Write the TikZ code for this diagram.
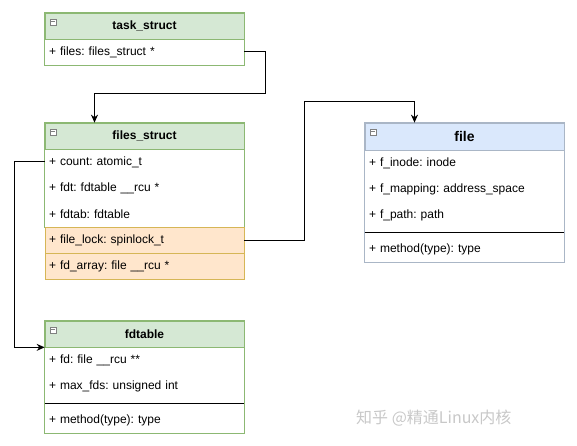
\documentclass[tikz,border=0pt]{standalone}
\usepackage{fontspec}
\setmainfont{Liberation Sans}
\newfontfamily\cjk{Noto Sans CJK SC}
\usepackage{tikz}
\definecolor{hgreen}{RGB}{213, 232, 212}
\definecolor{bgreen}{RGB}{140, 184, 115}
\definecolor{horange}{RGB}{255, 230, 204}
\definecolor{borange}{RGB}{214, 182, 86}
\definecolor{hblue}{RGB}{218, 232, 252}
\definecolor{bblue}{RGB}{170, 182, 198}
\definecolor{wm}{RGB}{200, 200, 200}
\usetikzlibrary{positioning}
\usetikzlibrary{arrows.meta}
\frenchspacing

\begin{document}
\begin{tikzpicture}[x=1pt, y=1pt,
head/.style={rectangle, minimum width=199pt, minimum height=26pt, inner sep=0pt, line width=0.7pt, font=\bfseries\fontsize{12}{14}\selectfont},
row/.style={rectangle, minimum height=26pt, text width=191pt, inner xsep=4pt, inner ysep=0pt, align=left, line width=0.7pt, font=\fontsize{12}{14}\selectfont},
minus/.style={rectangle, minimum size=6pt, inner sep=0pt, draw=gray, fill=white, line width=0.5pt, path picture={\draw[line width=0.9pt] ([xshift=1.2pt]path picture bounding box.west) -- ([xshift=-1.2pt]path picture bounding box.east);}},
link/.style={line width=1pt, color=black, -{Stealth[length=8pt, width=7pt]}},
sep/.style={line width=1pt, color=black}]
\useasboundingbox (0,0) rectangle (577,-446);
% task_struct
\node (tshead) [head, fill=hgreen, draw=bgreen] at (144.5,-26) {task\_struct};
\node (tsfiles) [row] at (144.5,-52) {+ files: files\_struct *};
\draw [line width=0.7pt, color=bgreen] (tshead.north west) rectangle (tsfiles.south east);
\node (tsicon) [minus, below right=6pt and 5pt of tshead.north west] {};
% files_struct
\node (fshead) [head, fill=hgreen, draw=bgreen] at (144.5,-136) {files\_struct};
\node (fscount) [row] at (144.5,-162) {+ count: atomic\_t};
\node (fsfdt) [row] at (144.5,-188) {+ fdt: fdtable \_\_rcu *};
\node (fsfdtab) [row] at (144.5,-214) {+ fdtab: fdtable};
\draw [line width=0.7pt, color=bgreen] (fshead.north west) rectangle (fsfdtab.south east);
\node (fslock) [row, fill=horange, draw=borange] at (144.5,-240) {+ file\_lock: spinlock\_t};
\node (fsarray) [row, fill=horange, draw=borange] at (144.5,-266) {+ fd\_array: file \_\_rcu *};
\node (fsicon) [minus, below right=6pt and 5pt of fshead.north west] {};
% fdtable
\node (fdhead) [head, fill=hgreen, draw=bgreen] at (144.5,-334) {fdtable};
\node (fdfd) [row] at (144.5,-360) {+ fd: file \_\_rcu **};
\node (fdmax) [row] at (144.5,-386) {+ max\_fds: unsigned int};
\node (fdmethod) [row] at (144.5,-420) {+ method(type): type};
\draw [line width=0.7pt, color=bgreen] (fdhead.north west) rectangle (fdmethod.south east);
\draw [sep] ([yshift=-4pt]fdmax.south west) -- ([yshift=-4pt]fdmax.south east);
\node (fdicon) [minus, below right=6pt and 5pt of fdhead.north west] {};
% file
\node (fihead) [head, fill=hblue, draw=bblue, font=\bfseries\fontsize{14}{16}\selectfont, minimum height=27pt] at (464.5,-136.5) {file};
\node (fiinode) [row] at (464.5,-163) {+ f\_inode: inode};
\node (fimap) [row] at (464.5,-189) {+ f\_mapping: address\_space};
\node (fipath) [row] at (464.5,-215) {+ f\_path: path};
\node (fimethod) [row] at (464.5,-249) {+ method(type): type};
\draw [line width=0.7pt, color=bblue] (fihead.north west) rectangle (fimethod.south east);
\draw [sep] ([yshift=-4pt]fipath.south west) -- ([yshift=-4pt]fipath.south east);
\node (fiicon) [minus, below right=6pt and 5pt of fihead.north west] {};
% links
\coordinate (fsin) at ([xshift=-50pt]fshead.north);
\coordinate (fiin) at ([xshift=-50pt]fihead.north);
\draw [link] (tsfiles.east) -- ++(21,0) -- ++(0,-42) -| (fsin);
\draw [link] (fslock.east) -- ++(60,0) -- ++(0,138) -| (fiin);
\draw [link] (fscount.west) -- ++(-30,0) |- (fdhead.south west);
% watermark
\node (wmark) [font=\cjk\fontsize{16}{18}\selectfont, text=wm, anchor=west, inner sep=0pt] at (356,-418) {知乎 @精通Linux内核};
\end{tikzpicture}
\end{document}
